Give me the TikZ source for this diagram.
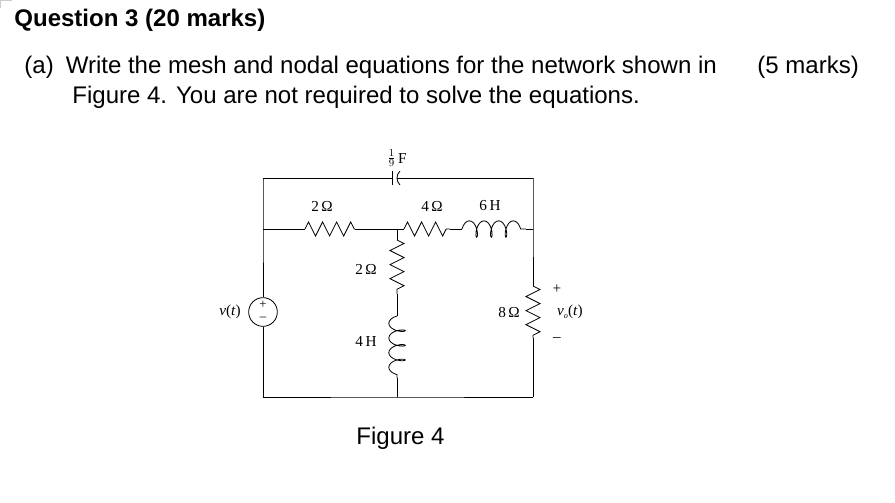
\documentclass[tikz,border=0pt]{standalone}
\usepackage{fontspec}
\setmainfont{Liberation Sans}
\newfontfamily\ckt{Liberation Serif}
\usetikzlibrary{calc, decorations.pathmorphing, positioning}
\tikzset{
  txt/.style={anchor=west,font=\fontsize{20.5}{24}\selectfont,inner sep=0pt},
  lbl/.style={font=\ckt\fontsize{13}{15}\selectfont,inner sep=1pt},
  res/.style={decorate,decoration={zigzag,segment length=12pt,amplitude=6pt,pre length=0pt,post length=0pt}},
  ind/.style={decorate,decoration={coil,segment length=12.5pt,amplitude=7pt,aspect=0.45,pre length=0pt,post length=0pt}},
  wire/.style={line width=0.7pt}
}
\begin{document}
\begin{tikzpicture}[x=0.03cm,y=-0.03cm,wire]
  \useasboundingbox (0,0) rectangle (895,502);
  \draw[gray!40] (0,0) -- (12,0) (0,0) -- (0,8);
  % text
  \node[txt,font=\bfseries\fontsize{20.5}{24}\selectfont] (title) at (14,20) {Question 3 (20 marks)};
  \node[txt] (qa) at (24,67) {(a)\enspace Write the mesh and nodal equations for the network shown in};
  \node[txt] (qb) at (72,97) {Figure 4. You are not required to solve the equations.};
  \node[txt] (mk) at (757,67) {(5 marks)};
  \node[txt] (fig) at (356,438) {Figure 4};

  % corners
  \coordinate (tl) at (263,178);
  \coordinate (tr) at (533,178);
  \coordinate (ml) at (263,229);
  \coordinate (mm) at (397,229);
  \coordinate (mr) at (533,229);
  \coordinate (bl) at (263,397);
  \coordinate (bm) at (397,397);
  \coordinate (br) at (533,397);

  % top with capacitor
  \coordinate (c1) at (392,178);
  \coordinate (c2) at (397,178);
  \draw (tl) -- (c1) (c1) ++(0,-7) -- ++(0,14);
  \draw ($(c2)+(3,-7)$) .. controls ($(c2)+(-1,-3)$) and ($(c2)+(-1,3)$) .. ($(c2)+(3,7)$);
  \draw (c2) -- (tr);
  \node[lbl] (cap) at (397,158) {\raisebox{0.2ex}{$\frac{1}{9}$}\,F};

  % middle branch
  \coordinate (r1a) at (305,229);
  \coordinate (r1b) at (355,229);
  \draw (ml) -- (r1a);
  \draw[res] (r1a) -- (r1b);
  \draw (r1b) -- (mm);
  \node[lbl] (l1) at (322,206) {2\,Ω};
  \coordinate (r2a) at (404,229);
  \coordinate (r2b) at (450,229);
  \draw (mm) -- (r2a);
  \draw[res] (r2a) -- (r2b);
  \coordinate (i1a) at (462,229);
  \coordinate (i1b) at (526,229);
  \draw (r2b) -- (i1a);
  \draw[ind] (i1a) -- (i1b);
  \draw (i1b) -- (mr);
  \node[lbl] (l2) at (432,206) {4\,Ω};
  \node[lbl] (l3) at (490,206) {6\,H};

  % center vertical
  \coordinate (r3a) at (397,240);
  \coordinate (r3b) at (397,294);
  \draw (mm) -- (r3a);
  \draw[res] (r3a) -- (r3b);
  \coordinate (i2a) at (397,316);
  \coordinate (i2b) at (397,378);
  \draw (r3b) -- (i2a);
  \draw[ind,decoration={mirror}] (i2a) -- (i2b);
  \draw (i2b) -- (bm);
  \node[lbl] (l4) at (366,269) {2\,Ω};
  \node[lbl] (l5) at (366,341) {4\,H};

  % right vertical
  \coordinate (r4a) at (533,286);
  \coordinate (r4b) at (533,338);
  \draw (tr) -- (mr) -- (r4a);
  \draw[res] (r4a) -- (r4b);
  \draw (r4b) -- (br);
  \node[lbl] (l6) at (509,313) {8\,Ω};
  \node[lbl] (vp) at (557,289) {+};
  \node[lbl] (vo) at (570,312) {\textit{v}\raisebox{-0.4ex}{\scriptsize\textit{o}}(\textit{t})};
  \node[lbl] (vm) at (557,340) {–};

  % source and left side
  \node[circle,draw,minimum size=0.86cm,inner sep=0pt] (src) at (263,312) {};
  \node[lbl,font=\ckt\fontsize{11}{11}\selectfont] at (263,305) {+};
  \node[lbl,font=\ckt\fontsize{11}{11}\selectfont] at (263,319) {–};
  \node[lbl,left=5pt of src] (vt) {\textit{v}(\textit{t})};
  \draw (tl) -- (ml) -- (src.north);
  \draw (src.south) -- (bl) -- (bm) -- (br);
\end{tikzpicture}
\end{document}
